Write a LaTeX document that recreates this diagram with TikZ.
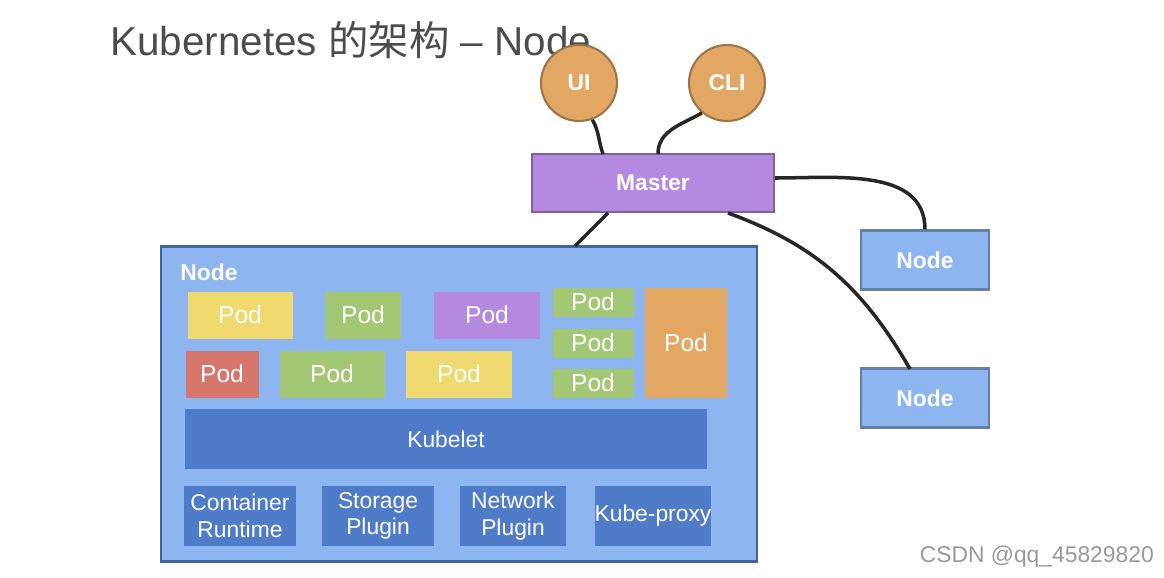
\documentclass[tikz,border=0pt]{standalone}
\usepackage{fontspec}
\setmainfont{Liberation Sans}
\newfontfamily\cjk{Noto Sans CJK SC}
\begin{document}
\begin{tikzpicture}[x=0.02cm,y=-0.02cm,
  box/.style={draw=#1!70!black,line width=1.2pt,inner sep=0pt,text=white,font=\fontsize{13}{14}\selectfont\bfseries},
  pod/.style={fill=#1,draw=none,inner sep=0pt,text=white,font=\fontsize{14}{15}\selectfont},
  blk/.style={fill=blu,draw=none,inner sep=0pt,text=white,align=center,font=\fontsize{13}{15}\selectfont},
  con/.style={line width=2pt,black!85}]
\definecolor{org}{HTML}{E2A762}
\definecolor{pur}{HTML}{B48AE0}
\definecolor{lbl}{HTML}{8DB6F0}
\definecolor{blu}{HTML}{4F7CC8}
\definecolor{yel}{HTML}{F0D96E}
\definecolor{grn}{HTML}{A3C873}
\definecolor{ppl}{HTML}{B48AE0}
\definecolor{red}{HTML}{D7766A}
\definecolor{opod}{HTML}{E2A762}
\useasboundingbox (0,0) rectangle (1164,578);
\node[anchor=west,inner sep=0pt,text=black!70,font=\fontsize{23}{26}\selectfont] (title) at (110,40) {Kubernetes {\cjk 的架构} – Node};
\node[circle,box=org,fill=org,minimum size=76*0.02cm] (ui) at (579,83) {UI};
\node[circle,box=org,fill=org,minimum size=76*0.02cm] (cli) at (727,83) {CLI};
\node[box=pur,fill=pur,minimum width=242*0.02cm,minimum height=58*0.02cm] (master) at (653,183) {Master};
\node[box=lbl,fill=lbl,minimum width=128*0.02cm,minimum height=59*0.02cm] (n1) at (925,260) {Node};
\node[box=lbl,fill=lbl,minimum width=128*0.02cm,minimum height=59*0.02cm] (n2) at (925,398) {Node};
\node[draw=blu!80!black,fill=lbl,line width=1.2pt,minimum width=596*0.02cm,minimum height=315*0.02cm,inner sep=0pt] (node) at (459,404) {};
\node[anchor=west,inner sep=0pt,text=white,font=\fontsize{13}{14}\selectfont\bfseries] (nlab) at (180,272) {Node};
% pods
\node[pod=yel,minimum width=105*0.02cm,minimum height=47*0.02cm] (p1) at (240,315) {Pod};
\node[pod=grn,minimum width=76*0.02cm,minimum height=47*0.02cm] (p2) at (363,315) {Pod};
\node[pod=ppl,minimum width=106*0.02cm,minimum height=47*0.02cm] (p3) at (487,315) {Pod};
\node[pod=grn,minimum width=81*0.02cm,minimum height=29*0.02cm] (p4) at (593,302) {Pod};
\node[pod=grn,minimum width=81*0.02cm,minimum height=29*0.02cm] (p5) at (593,343) {Pod};
\node[pod=grn,minimum width=81*0.02cm,minimum height=29*0.02cm] (p6) at (593,383) {Pod};
\node[pod=opod,minimum width=82*0.02cm,minimum height=110*0.02cm] (p7) at (686,343) {Pod};
\node[pod=red,minimum width=73*0.02cm,minimum height=47*0.02cm] (p8) at (222,374) {Pod};
\node[pod=grn,minimum width=105*0.02cm,minimum height=47*0.02cm] (p9) at (332,374) {Pod};
\node[pod=yel,minimum width=106*0.02cm,minimum height=47*0.02cm] (p10) at (459,374) {Pod};
\node[blk,minimum width=522*0.02cm,minimum height=60*0.02cm] (kubelet) at (446,439) {Kubelet};
\node[blk,minimum width=112*0.02cm,minimum height=60*0.02cm] (b1) at (240,516) {Container\\Runtime};
\node[blk,minimum width=112*0.02cm,minimum height=60*0.02cm] (b2) at (378,516) {Storage\\Plugin};
\node[blk,minimum width=106*0.02cm,minimum height=60*0.02cm] (b3) at (513,516) {Network\\Plugin};
\node[blk,minimum width=108*0.02cm,minimum height=60*0.02cm] (b4) at (653,516) {Kube-proxy};
% connectors
\draw[con] (ui.-70) to[out=-60,in=110] (603,154);
\draw[con] (cli.-130) to[out=-150,in=90] (658,154);
\draw[con] (608,213) -- (575,246);
\draw[con] (775,178) to[out=0,in=90] (n1.north);
\draw[con] (728,213) to[out=-20,in=120] (910,369);
\node[anchor=east,text=black!40,font=\fontsize{13}{14}\selectfont] (wm) at (1160,557) {CSDN @qq\_45829820};
\end{tikzpicture}
\end{document}
